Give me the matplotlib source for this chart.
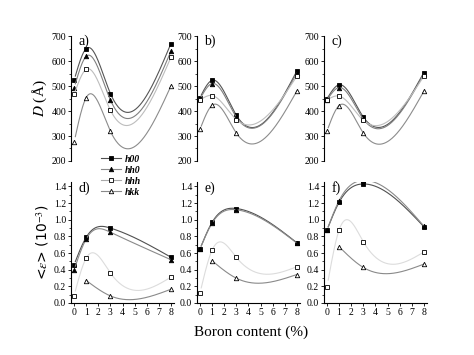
import numpy as np
import matplotlib
matplotlib.use('Agg')
from matplotlib import pyplot as plt

boron = [0, 1, 3, 8]
boron_hkk = [1, 3, 8]

# crystallite size D (A), panels a-c
D_a = {'h00': [523, 650, 470, 670],
       'hh0': [492, 619, 444, 639],
       'hhh': [467, 567, 403, 615],
       'hkk': [275, 454, 319, 500]}
D_b = {'h00': [454, 523, 383, 560],
       'hh0': [449, 510, 376, 552],
       'hhh': [444, 462, 366, 539],
       'hkk': [327, 423, 312, 480]}
D_c = {'h00': [449, 505, 376, 554],
       'hh0': [444, 494, 368, 548],
       'hhh': [444, 460, 363, 539],
       'hkk': [320, 422, 312, 479]}

# microstrain <e> (10^-3), panels d-f (hkk has no value at 0 %)
E_d = {'h00': [0.46, 0.79, 0.90, 0.55],
       'hh0': [0.40, 0.77, 0.85, 0.52],
       'hhh': [0.09, 0.54, 0.36, 0.31],
       'hkk': [0.27, 0.085, 0.165]}
E_e = {'h00': [0.65, 0.97, 1.135, 0.724],
       'hh0': [0.65, 0.96, 1.12, 0.72],
       'hhh': [0.12, 0.636, 0.548, 0.435],
       'hkk': [0.507, 0.298, 0.342]}
E_f = {'h00': [0.877, 1.21, 1.43, 0.917],
       'hh0': [0.877, 1.23, 1.473, 0.925],
       'hhh': [0.193, 0.877, 0.736, 0.612],
       'hkk': [0.676, 0.427, 0.467]}

series = ['h00', 'hh0', 'hhh', 'hkk']
markers = {'h00': 's', 'hh0': '^', 'hhh': 's', 'hkk': '^'}
filled = {'h00': True, 'hh0': True, 'hhh': False, 'hkk': False}
top_line = {'h00': '#555555', 'hh0': '#808080', 'hhh': '#bdbdbd', 'hkk': '#8c8c8c'}
bot_line = {'h00': '#505050', 'hh0': '#8a8a8a', 'hhh': '#dcdcdc', 'hkk': '#8a8a8a'}
MS = 3.2


def natural_spline(xs, ys, xq):
    xs = np.asarray(xs, float)
    ys = np.asarray(ys, float)
    n = len(xs)
    h = np.diff(xs)
    A = np.zeros((n, n))
    r = np.zeros(n)
    A[0, 0] = A[-1, -1] = 1
    for i in range(1, n - 1):
        A[i, i - 1] = h[i - 1]
        A[i, i] = 2 * (h[i - 1] + h[i])
        A[i, i + 1] = h[i]
        r[i] = 6 * ((ys[i + 1] - ys[i]) / h[i] - (ys[i] - ys[i - 1]) / h[i - 1])
    M = np.linalg.solve(A, r)
    k = np.clip(np.searchsorted(xs, xq) - 1, 0, n - 2)
    hk = h[k]
    a = xs[k + 1] - xq
    b = xq - xs[k]
    return (M[k] * a ** 3 / (6 * hk) + M[k + 1] * b ** 3 / (6 * hk)
            + (ys[k] / hk - M[k] * hk / 6) * a + (ys[k + 1] / hk - M[k + 1] * hk / 6) * b)


plt.rcParams['font.family'] = ['Liberation Serif', 'DejaVu Serif']
plt.rcParams['mathtext.fontset'] = 'stix'

fig = plt.figure(figsize=(4.74, 3.55), dpi=100)
lefts = [0.150, 0.4156, 0.6835]
w = 0.217
top_axes = [fig.add_axes([l, 0.5465, w, 0.352]) for l in lefts]
bot_axes = [fig.add_axes([l, 0.1465, w, 0.340]) for l in lefts]

for ax, data, lab in zip(top_axes, [D_a, D_b, D_c], ['a)', 'b)', 'c)']):
    for s in series:
        xq = np.linspace(0.1, 8, 200)
        ax.plot(xq, natural_spline(boron, data[s], xq), color=top_line[s], lw=0.8)
        ax.plot(boron, data[s], ls='none', marker=markers[s], ms=MS,
                mfc='black' if filled[s] else 'white', mec='black', mew=0.6)
    ax.set_xlim(-0.25, 8.25)
    ax.set_ylim(200, 700)
    ax.set_yticks([200, 300, 400, 500, 600, 700])
    ax.set_yticks(np.arange(250, 700, 100), minor=True)
    for sp in ['top', 'right', 'bottom']:
        ax.spines[sp].set_visible(False)
    ax.set_xticks([])
    ax.text(0.07, 1.01, lab, transform=ax.transAxes, fontsize=10, va='top')

for ax, data, lab in zip(bot_axes, [E_d, E_e, E_f], ['d)', 'e)', 'f)']):
    for s in series:
        xs = boron_hkk if s == 'hkk' else boron
        x0 = xs[0] if s == 'hkk' else 0.1
        xq = np.linspace(x0, 8, 200)
        ax.plot(xq, natural_spline(xs, data[s], xq), color=bot_line[s], lw=0.8)
        ax.plot(xs, data[s], ls='none', marker=markers[s], ms=MS,
                mfc='black' if filled[s] else 'white', mec='black', mew=0.6)
    ax.set_xlim(-0.25, 8.25)
    ax.set_ylim(0, 1.45)
    ax.set_xticks(range(0, 9))
    ax.set_yticks(np.arange(0, 1.41, 0.2))
    ax.set_yticks(np.arange(0.1, 1.41, 0.2), minor=True)
    ax.yaxis.set_major_formatter(matplotlib.ticker.FormatStrFormatter('%.1f'))
    for sp in ['top', 'right']:
        ax.spines[sp].set_visible(False)
    ax.text(0.07, 1.01, lab, transform=ax.transAxes, fontsize=10, va='top')

for ax in top_axes + bot_axes:
    ax.tick_params(labelsize=7, length=2.5, width=0.6, pad=1)
    ax.tick_params(which='minor', length=1.5, width=0.5)
    for sp in ax.spines.values():
        sp.set_linewidth(0.8)

top_axes[0].set_ylabel(r'$D$ (Å)', fontsize=11, labelpad=2)
bot_axes[0].set_ylabel(r'<$\varepsilon$> (10$^{-3}$)', fontsize=10, family='DejaVu Sans', labelpad=2)
fig.text(0.53, 0.055, 'Boron content (%)', ha='center', fontsize=11)

# legend
handles = []
for s in series:
    h, = top_axes[0].plot([], [], color=bot_line[s] if s != 'hhh' else '#aaaaaa', lw=0.8,
                          marker=markers[s], ms=MS, mfc='black' if filled[s] else 'white',
                          mec='black', mew=0.6)
    handles.append(h)
fig.legend(handles, series, loc='center left', bbox_to_anchor=(0.195, 0.505),
           frameon=False, prop={'style': 'italic', 'size': 7, 'weight': 'bold'},
           handlelength=2.0, handletextpad=0.4, labelspacing=0.2)

fig.savefig('out.png', dpi=100)
